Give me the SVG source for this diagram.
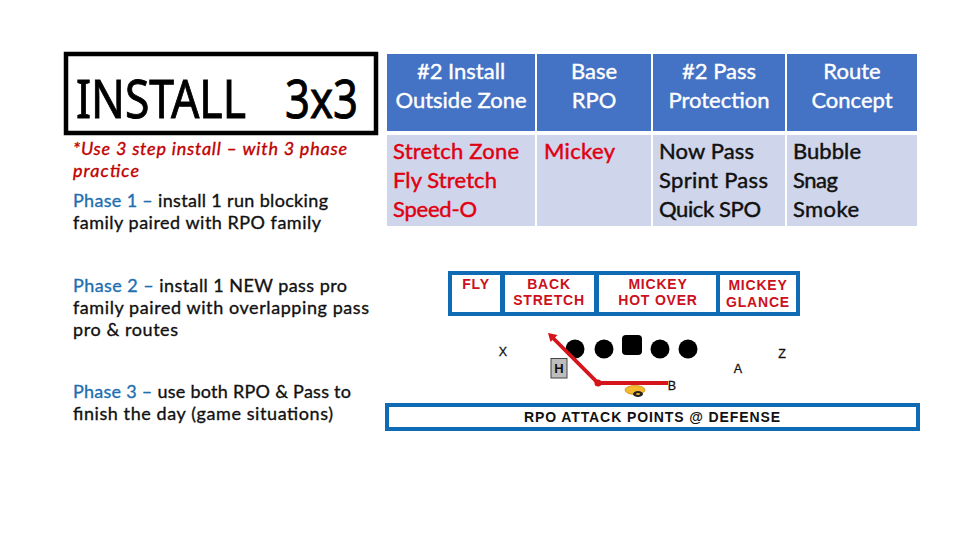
<svg xmlns="http://www.w3.org/2000/svg" width="960" height="540" viewBox="0 0 960 540">
<style>
text{font-family:"Lato","Carlito","Liberation Sans",sans-serif}
.b{font-size:18px;font-weight:400;fill:#111;stroke:#111;stroke-width:.35}
.bl{fill:#1f6fb0;stroke:#1f6fb0}
.rd{fill:#c00000;stroke:#c00000}
.h{font-size:22px;font-weight:400;fill:#fff;stroke:#fff;stroke-width:.4;text-anchor:middle}
.c{font-size:22px;font-weight:400;fill:#111;stroke:#111;stroke-width:.45}
.cr{fill:#e00010;stroke:#e00010}
.hc{fill:#4472c4}
.bc{fill:#cfd5ea}
.k{font-family:"Liberation Sans",sans-serif;font-weight:700}
.lab{font-size:14px;fill:#cc1020;text-anchor:middle;letter-spacing:.8px}
.fr{fill:#fff;stroke:#0f6cb4;stroke-width:4}
.pl{fill:#000}
.m{font-size:12.500px;font-weight:400;fill:#111;stroke:#111;stroke-width:.3;text-anchor:middle}
.t{font-size:52px;font-family:"Noto Sans","Liberation Sans",sans-serif;fill:#000;stroke:#000;stroke-width:.9}
</style>
<rect width="960" height="540" fill="#fff"/>
<g id="title">
<rect x="66" y="54" width="310" height="79" fill="#fff" stroke="#000" stroke-width="4.500"/>
<text class="t" x="76" y="118" textLength="170" lengthAdjust="spacingAndGlyphs">INSTALL</text>
<text class="t" x="285" y="118" textLength="73" lengthAdjust="spacingAndGlyphs">3x3</text>
</g>
<g id="notes">
<text class="b rd" x="73" y="155" font-style="italic" textLength="274">*Use 3 step install – with 3 phase</text>
<text class="b rd" x="73" y="177" font-style="italic" textLength="66">practice</text>
<text class="b" x="73" y="207" textLength="255"><tspan class="bl">Phase 1 – </tspan>install 1 run blocking</text>
<text class="b" x="73" y="229" textLength="248">family paired with RPO family</text>
<text class="b" x="73" y="292" textLength="274"><tspan class="bl">Phase 2 – </tspan>install 1 NEW pass pro</text>
<text class="b" x="73" y="314" textLength="296">family paired with overlapping pass</text>
<text class="b" x="73" y="336" textLength="105">pro &amp; routes</text>
<text class="b" x="73" y="398" textLength="278"><tspan class="bl">Phase 3 – </tspan>use both RPO &amp; Pass to</text>
<text class="b" x="73" y="420" textLength="260">finish the day (game situations)</text>
</g>
<g id="table">
<rect class="hc" x="387" y="54" width="148" height="77"/>
<rect class="hc" x="537" y="54" width="114" height="77"/>
<rect class="hc" x="653" y="54" width="132" height="77"/>
<rect class="hc" x="787" y="54" width="130" height="77"/>
<rect class="bc" x="387" y="135" width="148" height="91"/>
<rect class="bc" x="537" y="135" width="114" height="91"/>
<rect class="bc" x="653" y="135" width="132" height="91"/>
<rect class="bc" x="787" y="135" width="130" height="91"/>
<text class="h" x="461" y="79">#2 Install</text>
<text class="h" x="461" y="108">Outside Zone</text>
<text class="h" x="594" y="79">Base</text>
<text class="h" x="594" y="108">RPO</text>
<text class="h" x="719" y="79">#2 Pass</text>
<text class="h" x="719" y="108">Protection</text>
<text class="h" x="852" y="79">Route</text>
<text class="h" x="852" y="108">Concept</text>
<text class="c cr" x="393" y="159" textLength="126">Stretch Zone</text>
<text class="c cr" x="393" y="188" textLength="104">Fly Stretch</text>
<text class="c cr" x="393" y="217" textLength="84">Speed-O</text>
<text class="c cr" x="544" y="159" textLength="71">Mickey</text>
<text class="c" x="659" y="159" textLength="95">Now Pass</text>
<text class="c" x="659" y="188" textLength="109">Sprint Pass</text>
<text class="c" x="659" y="217" textLength="102">Quick SPO</text>
<text class="c" x="793" y="159" textLength="68">Bubble</text>
<text class="c" x="793" y="188" textLength="45">Snag</text>
<text class="c" x="793" y="217" textLength="66">Smoke</text>
</g>
<g id="concepts">
<rect class="fr" x="450" y="273" width="348" height="41"/>
<rect x="500" y="272" width="5" height="44" fill="#0f6cb4"/>
<rect x="594" y="272" width="5" height="44" fill="#0f6cb4"/>
<rect x="716" y="272" width="4" height="44" fill="#0f6cb4"/>
<text class="k lab" x="476" y="288.500">FLY</text>
<text class="k lab" x="549" y="288.500">BACK</text>
<text class="k lab" x="549" y="305">STRETCH</text>
<text class="k lab" x="658" y="288.500">MICKEY</text>
<text class="k lab" x="658" y="305">HOT OVER</text>
<text class="k lab" x="758" y="289.500">MICKEY</text>
<text class="k lab" x="758" y="306.500">GLANCE</text>
</g>
<g id="line">
<circle class="pl" cx="575" cy="349" r="9.500"/>
<circle class="pl" cx="604" cy="349" r="9.500"/>
<rect class="pl" x="622" y="335" width="20" height="20" rx="4"/>
<circle class="pl" cx="660" cy="349" r="9.500"/>
<circle class="pl" cx="688" cy="349" r="9.500"/>
</g>
<g id="defenders">
<text class="k m" x="503" y="356">X</text>
<text class="k m" x="782" y="358">Z</text>
<text class="k m" x="738" y="373">A</text>
<text class="k m" x="672" y="390">B</text>
<g id="h"><rect x="551" y="358.500" width="16" height="19.500" fill="#bdbdbd" stroke="#444" stroke-width="1"/><text class="k" x="559" y="373" font-size="13" fill="#111" text-anchor="middle">H</text></g>
<g id="qb"><ellipse cx="635" cy="390" rx="10" ry="4.500" fill="#f5b82e" stroke="#b98a10" stroke-width=".7"/><ellipse cx="638" cy="394" rx="5" ry="3" fill="#222"/><ellipse cx="638" cy="394" rx="2" ry="1" fill="#f5b82e"/></g>
</g>
<g id="connectors">
<path d="M668 383H598L552 337" fill="none" stroke="#d5141c" stroke-width="3.800"/>
<path d="M548 333l9.500 2-7 7z" fill="#d5141c"/>
<circle cx="598" cy="383" r="3.500" fill="#d5141c"/>
</g>
<g id="footer">
<rect x="387" y="405" width="531" height="24" fill="#fff" stroke="#0f6cb4" stroke-width="4"/>
<text class="k" x="652.500" y="421.500" font-size="14" fill="#111" text-anchor="middle" letter-spacing=".9">RPO ATTACK POINTS @ DEFENSE</text>
</g>
</svg>
